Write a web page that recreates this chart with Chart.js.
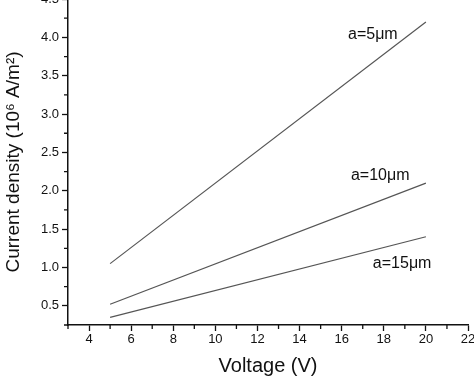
<!DOCTYPE html>
<html lang="en">
<head>
<meta charset="UTF-8">
<title>Current density vs voltage</title>
<script src="https://cdn.jsdelivr.net/npm/chart.js"></script>
<style>
    body {
        margin: 0;
        background: #fff;
        overflow: hidden;
    }
    .chart-box {
        position: absolute;
        left: 0;
        top: -20px; /* top of the plot is cropped like the original figure */
        width: 474px;
        height: 396px;
    }
</style>
</head>
<body>
<div class="chart-box"><canvas id="chart"></canvas></div>
<script>
// data
const voltage = [5, 20];
const a5 = [1.05, 4.2];
const a10 = [0.52, 2.1];
const a15 = [0.35, 1.4];
const seriesNames = ['a=5\u03bcm', 'a=10\u03bcm', 'a=15\u03bcm'];

// axis ticks
const xMajorTicks = [4, 6, 8, 10, 12, 14, 16, 18, 20, 22];
const xMinorTicks = [3, 5, 7, 9, 11, 13, 15, 17, 19, 21];
const yMajorTicks = [0.5, 1.0, 1.5, 2.0, 2.5, 3.0, 3.5, 4.0, 4.5];
const yMinorTicks = [0.25, 0.75, 1.25, 1.75, 2.25, 2.75, 3.25, 3.75, 4.25];

// where each series name sits, in data units
const labelAnchors = [
    { x: 16.3, y: 4.03 },
    { x: 16.44, y: 2.2 },
    { x: 17.48, y: 1.05 }
];

const FONT = 'Arial, "Liberation Sans", sans-serif';
const INK = '#111';

function toPoints(ys) {
    return voltage.map((v, i) => ({ x: v, y: ys[i] }));
}

const datasets = [a5, a10, a15].map((ys, i) => ({
    label: seriesNames[i],
    data: toPoints(ys),
    borderColor: '#555',
    borderWidth: 1.2,
    pointRadius: 0,
    tension: 0
}));

// minor ticks + series labels
const extras = {
    id: 'extras',
    afterDraw(chart) {
        const ctx = chart.ctx;
        const xs = chart.scales.x;
        const ys = chart.scales.y;
        ctx.save();
        ctx.strokeStyle = INK;
        ctx.lineWidth = 1.3;
        ctx.beginPath();
        xMinorTicks.forEach(v => {
            const px = xs.getPixelForValue(v);
            ctx.moveTo(px, xs.top);
            ctx.lineTo(px, xs.top + 4);
        });
        yMinorTicks.forEach(v => {
            const py = ys.getPixelForValue(v);
            ctx.moveTo(ys.right, py);
            ctx.lineTo(ys.right - 4, py);
        });
        ctx.stroke();

        ctx.fillStyle = INK;
        ctx.font = '16px ' + FONT;
        ctx.textAlign = 'left';
        ctx.textBaseline = 'middle';
        labelAnchors.forEach((a, i) => {
            ctx.fillText(seriesNames[i], xs.getPixelForValue(a.x), ys.getPixelForValue(a.y));
        });
        ctx.restore();
    }
};

new Chart(document.getElementById('chart'), {
    type: 'line',
    data: { datasets: datasets },
    options: {
        responsive: true,
        maintainAspectRatio: false,
        animation: false,
        layout: { padding: { top: 19, right: 6, bottom: 0, left: 0 } },
        plugins: {
            legend: { display: false },
            tooltip: { enabled: false }
        },
        scales: {
            x: {
                type: 'linear',
                position: 'bottom',
                min: 3,
                max: 22,
                afterBuildTicks: s => { s.ticks = xMajorTicks.map(v => ({ value: v })); },
                afterFit: s => { s.height = 51; s.paddingLeft = 0; s.paddingRight = 0; },
                ticks: {
                    autoSkip: false,
                    maxRotation: 0,
                    padding: 1,
                    color: INK,
                    font: { family: FONT, size: 13 },
                    callback: v => v
                },
                grid: { drawOnChartArea: false, tickLength: 6, tickWidth: 1.3, tickColor: INK },
                border: { display: true, color: INK, width: 1.5 },
                title: {
                    display: true,
                    text: 'Voltage (V)',
                    color: INK,
                    font: { family: FONT, size: 20, lineHeight: 1 },
                    padding: 0
                }
            },
            y: {
                type: 'linear',
                min: 0.25,
                max: 4.5,
                afterBuildTicks: s => { s.ticks = yMajorTicks.map(v => ({ value: v })); },
                afterFit: s => { s.width = 68; s.paddingTop = 0; s.paddingBottom = 0; },
                ticks: {
                    autoSkip: false,
                    padding: 3,
                    color: INK,
                    font: { family: FONT, size: 13 },
                    callback: v => v.toFixed(1)
                },
                grid: { drawOnChartArea: false, tickLength: 6, tickWidth: 1.3, tickColor: INK },
                border: { display: true, color: INK, width: 1.5 },
                title: {
                    display: true,
                    text: 'Current density (10\u2076 A/m\u00b2)',
                    color: INK,
                    font: { family: FONT, size: 19 },
                    padding: { top: 2, bottom: 0 }
                }
            }
        }
    },
    plugins: [extras]
});
</script>
</body>
</html>
